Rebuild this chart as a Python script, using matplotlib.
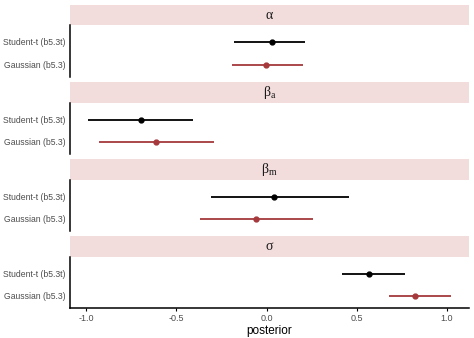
import numpy as np
import matplotlib
matplotlib.use('Agg')
import matplotlib.pyplot as plt

plt.rcParams['font.family'] = ['Liberation Sans', 'DejaVu Sans']
plt.rcParams['mathtext.fontset'] = 'custom'
plt.rcParams['mathtext.rm'] = 'Liberation Serif'
plt.rcParams['mathtext.it'] = 'Liberation Serif'

# parameters (facet strips) and model labels
params = [r'$\alpha$', r'$\beta_{a}$', r'$\beta_{m}$', r'$\sigma$']
models = ['Student-t (b5.3t)', 'Gaussian (b5.3)']

# posterior means and 95% interval bounds per parameter
student_mean = [0.028, -0.694, 0.040, 0.570]
student_low = [-0.178, -0.990, -0.310, 0.420]
student_high = [0.211, -0.410, 0.455, 0.770]
gauss_mean = [-0.002, -0.610, -0.060, 0.820]
gauss_low = [-0.190, -0.930, -0.370, 0.680]
gauss_high = [0.200, -0.290, 0.255, 1.020]

x_ticks = [-1.0, -0.5, 0.0, 0.5, 1.0]
x_tick_labels = ['-1.0', '-0.5', '0.0', '0.5', '1.0']

STUDENT_COLOR = 'black'
GAUSS_COLOR = '#a5393b'
STRIP_COLOR = '#f2dcdc'
TICK_COLOR = '#4d4d4d'

W, H = 474, 338
fig = plt.figure(figsize=(W / 100, H / 100), dpi=100)

left, right = 70, 469
# (strip_top, panel_top, panel_bottom) in pixels from the top
rows = [(5, 25, 77), (82, 103, 154), (159, 180, 231), (236, 257, 308)]

for i, (s_top, p_top, p_bot) in enumerate(rows):
    # strip
    sax = fig.add_axes([left / W, 1 - p_top / H, (right - left) / W, (p_top - s_top) / H])
    sax.set_facecolor(STRIP_COLOR)
    sax.set_xticks([])
    sax.set_yticks([])
    for sp in sax.spines.values():
        sp.set_visible(False)
    sax.text(0.5, 0.5, params[i], ha='center', va='center', fontsize=10,
             color='#1a1a1a', transform=sax.transAxes)

    ax = fig.add_axes([left / W, 1 - p_bot / H, (right - left) / W, (p_bot - p_top) / H])
    ax.set_xlim(-1.089, 1.122)
    ax.set_ylim(-0.55, 1.75)
    for name in ['top', 'right']:
        ax.spines[name].set_visible(False)
    ax.spines['left'].set_linewidth(1.1)

    ax.hlines(1, student_low[i], student_high[i], color=STUDENT_COLOR, lw=1.3)
    ax.plot(student_mean[i], 1, 'o', color=STUDENT_COLOR, ms=3.5)
    ax.hlines(0, gauss_low[i], gauss_high[i], color=GAUSS_COLOR, lw=1.3)
    ax.plot(gauss_mean[i], 0, 'o', color=GAUSS_COLOR, ms=3.5)

    ax.set_yticks([1, 0])
    ax.set_yticklabels(models, fontsize=6.2, color=TICK_COLOR)
    ax.tick_params(axis='y', length=0, pad=3.5)

    if i < 3:
        ax.spines['bottom'].set_visible(False)
        ax.set_xticks([])
    else:
        ax.spines['bottom'].set_linewidth(1.1)
        ax.set_xticks(x_ticks)
        ax.set_xticklabels(x_tick_labels, fontsize=6.5, color=TICK_COLOR)
        ax.tick_params(axis='x', length=2.5, pad=2)
        ax.set_xlabel('posterior', fontsize=8.5, labelpad=1)

fig.savefig('out.png', dpi=100)
